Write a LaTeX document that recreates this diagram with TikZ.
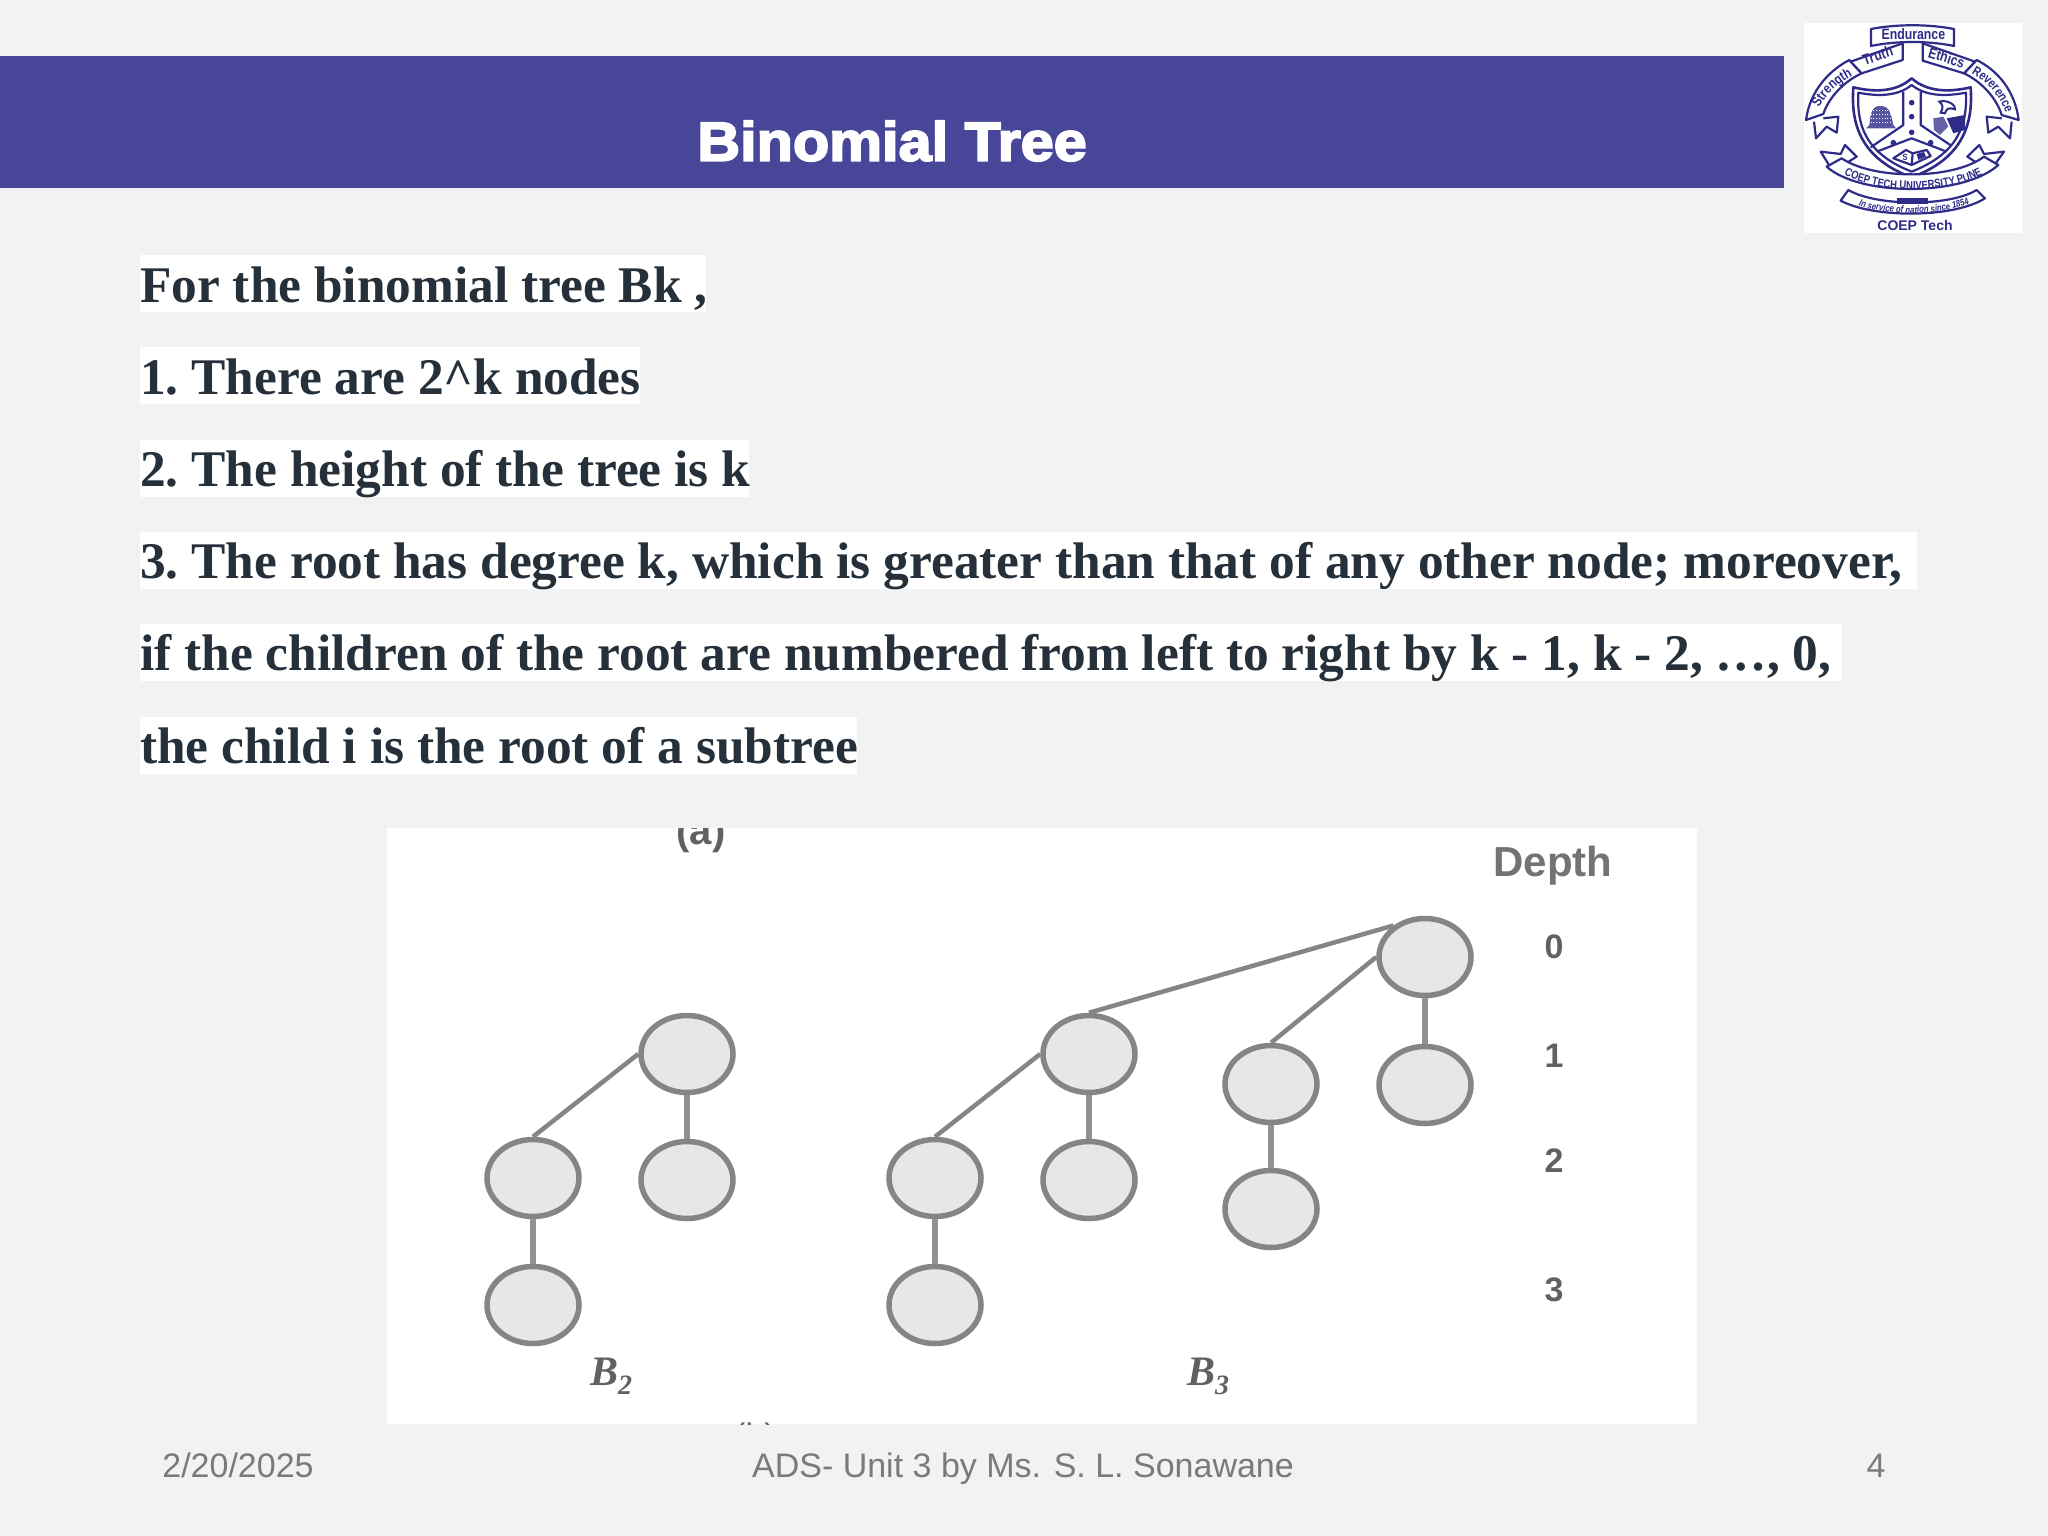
\documentclass[tikz,border=0pt]{standalone}
\usepackage{fontspec}
\setmainfont{Liberation Serif}
\setsansfont{Liberation Sans}
\newfontfamily\titlefont[FakeBold=3.5,FakeStretch=1.08]{Liberation Sans Bold}
\newfontfamily\crestfont[FakeStretch=0.82]{Liberation Sans Bold}
\newfontfamily\crestit[FakeStretch=0.82]{Liberation Sans Bold Italic}
\usetikzlibrary{shapes.geometric,decorations.text}
\definecolor{pagebg}{HTML}{F2F2F2}
\definecolor{banner}{HTML}{484699}
\definecolor{bodytxt}{HTML}{25303A}
\definecolor{foot}{HTML}{7A7A7A}
\definecolor{nodefill}{HTML}{E6E7E9}
\definecolor{edge}{HTML}{858585}
\definecolor{crest}{HTML}{2F2B88}
\tikzset{
  hl/.style={fill=white,draw=none},
  bodyline/.style={anchor=base west,inner sep=0pt,font=\frenchspacing\fontsize{51.4}{51.4}\selectfont\bfseries,text=bodytxt},
  foottext/.style={anchor=base,inner sep=0pt,font=\fontsize{34}{34}\selectfont\sffamily,text=foot},
  tnode/.style={draw=edge,fill=nodefill,ellipse,line width=5.5pt,minimum width=92pt,minimum height=77pt,inner sep=0pt},
  tedge/.style={draw=edge,line width=4.5pt},
  tedgev/.style={draw=edge!90,line width=6pt},
  figtext/.style={inner sep=0pt,text=black!62,font=\sffamily},
  crestline/.style={draw=crest,line width=2.2pt,line join=round},
  crestfill/.style={crestline,fill=white},
  crestword/.style={inner sep=0pt,text=crest,font=\fontsize{15}{15}\selectfont\crestfont},
}
\begin{document}
\begin{tikzpicture}[x=1pt,y=-1pt]
\useasboundingbox (0,0) rectangle (2048,1536);
\fill[pagebg] (0,0) rectangle (2048,1536);
% banner
\fill[banner] (0,56) rectangle (1784,188);
\node[inner sep=0pt,text=white,font=\fontsize{55}{55}\selectfont\titlefont] (title) at (892,141) {Binomial Tree};
% logo
\fill[white] (1804,23) rectangle (2022,233);
\begin{scope}[shift={(1780,10)},x=0.3333pt,y=-0.3333pt]
  % side scrolls
  \draw[crestfill] (208,150) .. controls (150,180) and (90,240) .. (78,330) -- (130,312) .. controls (145,265) and (190,215) .. (245,190) -- cycle;
  \draw[crestfill] (130,325) -- (175,320) -- (170,368) -- (140,350) -- (108,385) -- (102,335);
  \draw[crestfill] (590,150) .. controls (650,180) and (705,240) .. (716,330) -- (665,315) .. controls (650,265) and (605,215) .. (552,190) -- cycle;
  \draw[crestfill] (665,325) -- (620,320) -- (625,368) -- (655,350) -- (690,385) -- (695,335);
  % truth / ethics
  \draw[crestfill] (212,155) -- (368,100) -- (368,150) -- (245,190) -- cycle;
  \draw[crestfill] (428,100) -- (585,155) -- (552,190) -- (428,152) -- cycle;
  % endurance
  \draw[crestfill] (273,57) .. controls (350,42) and (445,42) .. (522,57) -- (522,108) .. controls (445,92) and (350,92) .. (273,108) -- cycle;
  \node[crestword] (wendurance) at (400,73) {Endurance};
  \node[crestword,rotate=18] (wtruth) at (293,136) {Truth};
  \node[crestword,rotate=-17] (wethics) at (500,143) {Ethics};
  \path[postaction={decorate,decoration={text along path,text align=center,text={|\fontsize{14}{14}\selectfont\crestfont\color{crest}|Strength}}}] (112,308) .. controls (128,262) and (172,218) .. (232,190);
  \path[postaction={decorate,decoration={text along path,text align=center,text={|\fontsize{13}{13}\selectfont\crestfont\color{crest}|Reverence}}}] (560,182) .. controls (615,208) and (662,255) .. (682,325);
  % shield
  \draw[crestline,line width=2.6pt,fill=white] (395,205) .. controls (345,250) and (275,245) .. (220,232) .. controls (212,340) and (240,445) .. (395,502) .. controls (550,445) and (580,340) .. (572,232) .. controls (518,245) and (445,250) .. (395,205) -- cycle;
  \draw[crestline] (395,225) .. controls (350,262) and (285,258) .. (235,248) .. controls (230,345) and (255,430) .. (395,485) .. controls (535,430) and (562,345) .. (558,248) .. controls (505,258) and (440,262) .. (395,225) -- cycle;
  \draw[crestline] (370,245) -- (370,345) -- (272,412);
  \draw[crestline] (422,245) -- (422,345) -- (515,408);
  \draw[crestline] (290,425) -- (395,385) -- (500,425);
  \foreach \dx/\dy in {395/278,395/320,395/367,340/398,452/398}
    \fill[crest] (\dx,\dy) circle (2.8pt);
  % emblem left
  \fill[crest!80] (258,355) -- (268,345) .. controls (272,310) and (275,288) .. (300,288) .. controls (330,288) and (332,310) .. (340,345) -- (348,355) -- cycle;
  \foreach \hy in {300,312,324,336}
    \draw[white,line width=0.8pt,dotted] (272,\hy) -- (336,\hy);
  % emblem right
  \fill[crest!75] (460,325) -- (490,320) -- (505,350) -- (480,375) -- (462,360) -- cycle;
  \fill[crest] (500,325) -- (555,315) -- (555,360) -- (520,370) -- cycle;
  \draw[crest,line width=2pt,fill=white] (478,275) .. controls (500,268) and (530,285) .. (525,298) .. controls (505,292) and (500,295) .. (495,310) -- (482,308) .. controls (490,295) and (490,285) .. (478,275) -- cycle;
  % book
  \draw[crestfill] (340,445) -- (378,420) -- (398,430) -- (440,420) -- (452,438) -- (395,465) -- cycle;
  \draw[crestline] (398,430) -- (395,465);
  \fill[crest] (410,432) -- (432,426) -- (438,440) -- (415,450) -- cycle;
  \node[crestword,font=\fontsize{9}{9}\selectfont\crestfont] (wbook) at (375,441) {S};
  % lower scroll
  \draw[crestfill] (122,425) -- (182,432) -- (195,405) -- (230,440) -- (190,465) -- (150,470) -- cycle;
  \draw[crestfill] (672,425) -- (612,432) -- (598,405) -- (562,440) -- (600,465) -- (640,470) -- cycle;
  \draw[crestfill] (140,470) .. controls (240,560) and (550,560) .. (655,465) -- (612,440) .. controls (520,510) and (280,510) .. (185,445) -- cycle;
  \path[postaction={decorate,decoration={text along path,text align=center,text={|\fontsize{11.5}{11.5}\selectfont\crestfont\color{crest}|COEP TECH UNIVERSITY PUNE}}}] (172,480) .. controls (265,557) and (525,557) .. (628,480);
  \draw[crestfill] (205,540) .. controls (290,590) and (510,590) .. (590,540) -- (615,565) .. controls (520,625) and (280,625) .. (182,572) -- cycle;
  \fill[crest] (350,565) rectangle (445,582);
  \path[postaction={decorate,decoration={text along path,text align=center,text={|\fontsize{9.5}{9.5}\selectfont\crestit\color{crest}|In service of nation since 1854}}}] (205,574) .. controls (300,622) and (500,622) .. (598,568);
  \node[crestword,font=\fontsize{14}{14}\selectfont\sffamily\bfseries] (wcoep) at (405,648) {COEP Tech};
\end{scope}
% body text
\fill[hl] (140,255) rectangle (706,312);
\fill[hl] (140,347) rectangle (640,404);
\fill[hl] (140,440) rectangle (749,497);
\fill[hl] (140,532) rectangle (1917,589);
\fill[hl] (140,624) rectangle (1842,681);
\fill[hl] (140,717) rectangle (857,774);
\node[bodyline] (l1) at (140,302) {For the binomial tree Bk ,};
\node[bodyline] (l2) at (140,394) {1. There are 2\^{}k nodes};
\node[bodyline] (l3) at (140,486) {2. The height of the tree is k};
\node[bodyline] (l4) at (140,578) {3. The root has degree k, which is greater than that of any other node; moreover,};
\node[bodyline] (l5) at (140,670) {if the children of the root are numbered from left to right by k - 1, k - 2, …, 0,};
\node[bodyline] (l6) at (140,763) {the child i is the root of a subtree};
% figure
\fill[white] (387,828) rectangle (1697,1424);
\begin{scope}
  \clip (387,828) rectangle (1697,1424);
  \node[figtext,font=\fontsize{40}{40}\selectfont\sffamily\bfseries] (lba) at (701,834) {(a)};
  \node[figtext,font=\fontsize{34}{34}\selectfont\sffamily] (lbb) at (755,1439) {(b)};
\end{scope}
\node[figtext,font=\fontsize{42}{42}\selectfont\sffamily\bfseries,text=black!55] (depth) at (1553,866) {Depth};
\node[figtext,font=\fontsize{34}{34}\selectfont\sffamily\bfseries] (d0) at (1554,947) {0};
\node[figtext,font=\fontsize{34}{34}\selectfont\sffamily\bfseries] (d1) at (1554,1056) {1};
\node[figtext,font=\fontsize{34}{34}\selectfont\sffamily\bfseries] (d2) at (1554,1161) {2};
\node[figtext,font=\fontsize{34}{34}\selectfont\sffamily\bfseries] (d3) at (1554,1290) {3};
\node[figtext,font=\fontsize{42}{42}\selectfont\rmfamily\bfseries\itshape] (btwo) at (611,1376) {B\raisebox{-9pt}{\fontsize{28}{28}\selectfont 2}};
\node[figtext,font=\fontsize{42}{42}\selectfont\rmfamily\bfseries\itshape] (bthree) at (1208,1376) {B\raisebox{-9pt}{\fontsize{28}{28}\selectfont 3}};
% B2
\node[tnode] (a0) at (687,1054) {};
\node[tnode] (a1) at (533,1178) {};
\node[tnode] (a2) at (687,1180) {};
\node[tnode] (a3) at (533,1305) {};
% B3
\node[tnode] (b0) at (1425,957) {};
\node[tnode] (b1) at (1089,1054) {};
\node[tnode] (b2) at (935,1178) {};
\node[tnode] (b3) at (1089,1180) {};
\node[tnode] (b4) at (935,1305) {};
\node[tnode] (b5) at (1271,1084) {};
\node[tnode] (b6) at (1271,1209) {};
\node[tnode] (b7) at (1425,1085) {};
\draw[tedge] (a0.west) -- (a1.north);
\draw[tedgev] (a0.south) -- (a2.north);
\draw[tedgev] (a1.south) -- (a3.north);
\draw[tedge] (b0.135) -- (b1.north);
\draw[tedge] (b0.west) -- (b5.north);
\draw[tedgev] (b0.south) -- (b7.north);
\draw[tedge] (b1.west) -- (b2.north);
\draw[tedgev] (b1.south) -- (b3.north);
\draw[tedgev] (b2.south) -- (b4.north);
\draw[tedgev] (b5.south) -- (b6.north);
% footer
\node[foottext] (fdate) at (238,1477) {2/20/2025};
\node[foottext] (fmid) at (1023,1477) {ADS- Unit 3 by Ms. S. L. Sonawane};
\node[foottext] (fnum) at (1876,1477) {4};
\end{tikzpicture}
\end{document}
